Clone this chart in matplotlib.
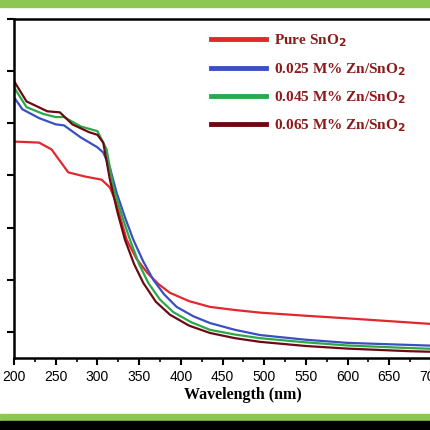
import matplotlib
matplotlib.use("Agg")
import matplotlib.pyplot as plt
from matplotlib.patches import Rectangle
from matplotlib.ticker import MultipleLocator

red_x = [200,230,245,265,285,305,315,322,335,347,360,373,387,410,435,465,495,550,600,675,750]
red_y = [4.65,4.63,4.50,4.06,3.98,3.92,3.77,3.50,2.77,2.40,2.13,1.92,1.75,1.59,1.48,1.42,1.37,1.31,1.26,1.18,1.10]
blue_x = [200,210,230,250,260,280,300,307,315,323,333,343,355,367,380,395,415,435,465,495,550,600,675,750]
blue_y = [5.50,5.27,5.10,4.98,4.96,4.73,4.54,4.44,4.15,3.67,3.20,2.77,2.35,2.00,1.72,1.48,1.30,1.17,1.04,0.94,0.85,0.79,0.75,0.71]
green_x = [200,215,235,250,260,280,300,311,319,329,339,350,361,375,391,412,435,465,495,550,600,675,750]
green_y = [5.69,5.31,5.18,5.12,5.12,4.94,4.85,4.50,3.79,3.25,2.77,2.30,1.94,1.62,1.38,1.19,1.04,0.95,0.88,0.80,0.74,0.69,0.65]
mar_x = [200,215,240,255,270,290,300,307,315,324,333,344,355,370,387,410,435,465,495,550,600,675,750]
mar_y = [5.81,5.42,5.23,5.21,4.98,4.83,4.78,4.63,3.92,3.30,2.77,2.30,1.94,1.58,1.33,1.12,0.98,0.88,0.81,0.73,0.68,0.63,0.60]
labels = ["Pure SnO$_\\mathbf{2}$", "0.025 M% Zn/SnO$_\\mathbf{2}$",
          "0.045 M% Zn/SnO$_\\mathbf{2}$", "0.065 M% Zn/SnO$_\\mathbf{2}$"]
colors = ["#e0282e", "#3a4fc0", "#2aa84a", "#6b0a12"]

fig = plt.figure(figsize=(4.3, 4.3), dpi=100)
fig.patches.append(Rectangle((0, 1 - 7/430), 1, 7/430, transform=fig.transFigure, color="#8cc653", zorder=0))
fig.patches.append(Rectangle((0, 9/430), 1, 7/430, transform=fig.transFigure, color="#8cc653", zorder=0))
fig.patches.append(Rectangle((0, 0), 1, 9/430, transform=fig.transFigure, color="black", zorder=0))

ax = fig.add_axes([14/430, 72/430, 458.7/430, 339/430])
for xs, ys, c, l in zip([red_x, blue_x, green_x, mar_x], [red_y, blue_y, green_y, mar_y], colors, labels):
    ax.plot(xs, ys, color=c, lw=1.6, label=l, solid_joinstyle="round")
ax.set_xlim(200, 750)
ax.set_ylim(0.5, 7.0)
ax.xaxis.set_major_locator(MultipleLocator(50))
ax.xaxis.set_minor_locator(MultipleLocator(25))
ax.yaxis.set_major_locator(MultipleLocator(1))
ax.set_yticklabels([])
ax.tick_params(direction="out", length=5, width=1.5, labelsize=10)
ax.tick_params(which="minor", direction="out", length=3, width=1.2)
for lab in ax.get_xticklabels():
    lab.set_family("Liberation Sans")
for s in ax.spines.values():
    s.set_linewidth(1.8)
ax.set_xlabel("Wavelength (nm)", family="Liberation Serif", fontweight="bold", fontsize=11.5, labelpad=2)
leg = ax.legend(loc="upper left", bbox_to_anchor=(0.4, 1.0), frameon=False,
                prop={"family": "Liberation Serif", "weight": "bold", "size": 11},
                handlelength=3.6, labelspacing=0.75, handletextpad=0.5)
for t in leg.get_texts():
    t.set_color("#8b1a1a")
for h in leg.get_lines():
    h.set_linewidth(3.5)
fig.savefig("out.png", dpi=100)
